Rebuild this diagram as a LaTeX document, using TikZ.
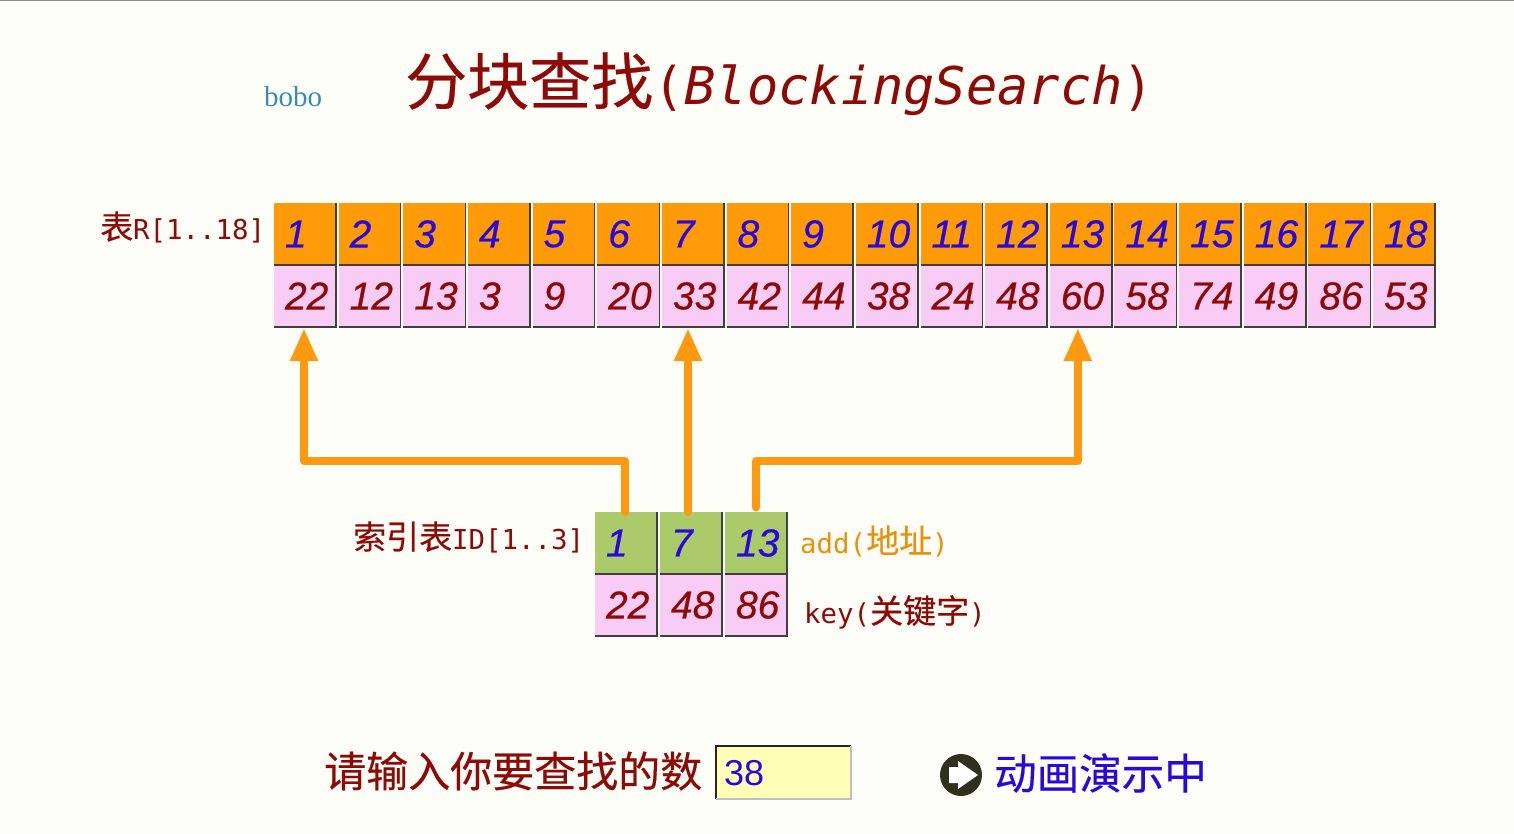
\documentclass[tikz,border=0pt]{standalone}
\usepackage{fontspec}
\setmainfont{Liberation Sans}
\newfontfamily\cjk[FakeBold=0.4]{Noto Sans CJK SC}
\newfontfamily\mono{DejaVu Sans Mono}
\newfontfamily\numf[ItalicFeatures={FakeBold=0.5}]{Liberation Sans}
\newfontfamily\plainf{Liberation Sans}
\newfontfamily\serf{Liberation Serif}
\usetikzlibrary{arrows.meta}
\definecolor{bgc}{HTML}{FEFEF8}
\definecolor{orangec}{HTML}{FF9A08}
\definecolor{pinkc}{HTML}{F8CCF4}
\definecolor{greenc}{HTML}{ABCB6A}
\definecolor{bluec}{HTML}{2A08DC}
\definecolor{redc}{HTML}{8E0A06}
\definecolor{arrowc}{HTML}{FF9A10}
\definecolor{addc}{HTML}{E8920C}
\definecolor{tealc}{HTML}{3A8CAE}
\definecolor{inputc}{HTML}{FFFFB8}
\definecolor{btnc}{HTML}{30301E}
\tikzset{
  cellbox/.style={minimum width=62,minimum height=62,text width=50,inner xsep=6,inner ysep=0,align=left,outer sep=0,font=\fontsize{39}{39}\numf\itshape,execute at begin node={\hspace*{5pt}}},
  addrcell/.style={cellbox,fill=orangec,text=bluec},
  keycell/.style={cellbox,fill=pinkc,text=redc},
  idcell/.style={cellbox,fill=greenc,text=bluec},
  labeltext/.style={inner sep=0,anchor=west,text=redc},
  conn/.style={draw=arrowc,line width=8,line cap=round,line join=round},
  connarrow/.style={conn,-{Triangle[length=33,width=26,sharp]}},
}
\newcommand\edges[1]{\draw[black!75,line width=1.5] (#1.north east)--(#1.south east)--(#1.south west);}
\begin{document}
\begin{tikzpicture}[x=1pt,y=-1pt]
\path[fill=bgc,use as bounding box] (0,0) rectangle (1514,834);
\draw[black!45,line width=1] (0,0.5)--(1514,0.5);

% title
\node[labeltext,text=redc] (title) at (405,84) {\fontsize{62}{62}\cjk 分块查找\fontsize{52}{62}\mono (\itshape BlockingSearch\upshape)};
\node[labeltext,text=tealc] (bobo) at (264,97) {\fontsize{29}{30}\serf bobo};

% main table
\node[labeltext] (rlabel) at (100,227) {\fontsize{33}{33}\cjk 表\fontsize{27.4}{33}\mono R[1..18]};
\foreach \i/\v in {1/22,2/12,3/13,4/3,5/9,6/20,7/33,8/42,9/44,10/38,11/24,12/48,13/60,14/58,15/74,16/49,17/86,18/53}{
  \pgfmathsetmacro{\xc}{305+64.65*(\i-1)}
  \node[addrcell] (r\i) at (\xc,234) {\i};
  \node[keycell] (v\i) at (\xc,296) {\v};
  \edges{r\i}
  \edges{v\i}
}

% index table
\node[labeltext] (idlabel) at (353,537) {\fontsize{33}{33}\cjk 索引表\fontsize{27.4}{33}\mono ID[1..3]};
\foreach \n/\xc/\a/\k in {a/626/1/22,b/691/7/48,c/756/13/86}{
  \node[idcell] (id\n) at (\xc,543) {\a};
  \node[keycell] (k\n) at (\xc,605) {\k};
  \edges{id\n}
  \edges{k\n}
}
\node[labeltext,text=addc] (addl) at (800,541) {\fontsize{27.4}{33}\mono add(\fontsize{33}{33}\cjk 地址\fontsize{27.4}{33}\mono )};
\node[labeltext] (keyl) at (804,612) {\fontsize{27.4}{33}\mono key(\fontsize{33}{33}\cjk 关键字\fontsize{27.4}{33}\mono )};

% connectors
\draw[connarrow] ([xshift=-1]ida.north) -- ++(0,-51) -| ([xshift=-1,yshift=-1]v1.south);
\draw[connarrow] ([xshift=-3]idb.north) -- ([xshift=-3,yshift=-1]idb.north |- v7.south);
\draw[connarrow] ([yshift=4.5]idc.north) -- ++(0,-46.5) -| ([xshift=-3,yshift=-1]v13.south);

% bottom row
\node[labeltext] (prompt) at (324,771) {\fontsize{42}{42}\cjk 请输入你要查找的数};
\node[draw=none,fill=inputc,minimum width=135,minimum height=53,inner sep=0,outer sep=0] (input) at (783.5,772.5) {};
\draw[black!85,line width=2] (input.south west)--(input.north west)--(input.north east);
\draw[black!25,line width=1.5] (input.north east)--(input.south east)--(input.south west);
\node[labeltext,text=bluec] (val) at (724,773) {\fontsize{36}{36}\plainf 38};
\node[circle,fill=btnc,minimum size=42,inner sep=0] (btn) at (961,775) {};
\fill[white] (949,767)--(958,767)--(958,761)--(978,775)--(958,789)--(958,783)--(949,783)--cycle;
\node[labeltext,text=bluec] (anim) at (994,773) {\fontsize{42.5}{42.5}\cjk 动画演示中};
\end{tikzpicture}
\end{document}
